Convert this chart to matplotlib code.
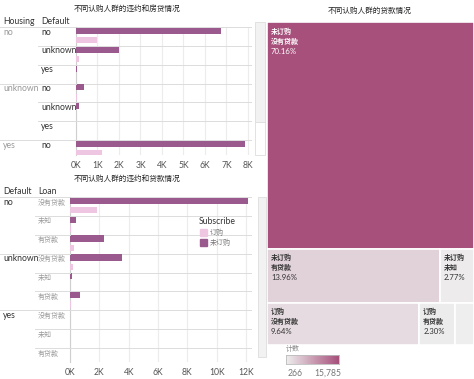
import matplotlib
matplotlib.use("Agg")
import matplotlib.pyplot as plt
import numpy as np
from matplotlib.colors import LinearSegmentedColormap
from matplotlib.patches import Rectangle

plt.rcParams['font.family'] = ['Lato', 'Noto Sans CJK SC', 'DejaVu Sans']

# ---------------- data ----------------
# chart 1: Housing / Default  (values in thousands)
housing = ["no", "no", "no", "unknown", "unknown", "unknown", "yes"]
default1 = ["no", "unknown", "yes", "no", "unknown", "yes", "no"]
not_sub1 = [6.73, 2.00, 0.03, 0.39, 0.12, 0.01, 7.88]
sub1 = [0.96, 0.12, 0.005, 0.05, 0.01, 0.02, 1.19]
ticks1 = [0, 1, 2, 3, 4, 5, 6, 7, 8]

# chart 2: Default / Loan (values in thousands)
default2 = ["no", "no", "no", "unknown", "unknown", "unknown", "yes", "yes", "yes"]
loan2 = ["没有贷款", "未知", "有贷款", "没有贷款", "未知", "有贷款", "没有贷款", "未知", "有贷款"]
not_sub2 = [12.16, 0.39, 2.30, 3.52, 0.11, 0.70, 0.003, 0.003, 0.02]
sub2 = [1.82, 0.07, 0.30, 0.20, 0.01, 0.04, 0.02, 0.02, 0.003]
ticks2 = [0, 2, 4, 6, 8, 10, 12]

# treemap: subscribe / loan counts
tm_sub = ["未订购", "未订购", "未订购", "订购", "订购", "订购"]
tm_loan = ["没有贷款", "有贷款", "未知", "没有贷款", "有贷款", "未知"]
tm_count = [15785, 3140, 623, 2169, 517, 266]
tm_row = [0, 1, 1, 2, 2, 2]

DARK = "#9b5a8d"
LIGHT = "#efc6e1"
GRID = "#ececec"
SEP = "#dcdcdc"
FS = 6.2

W, H = 474, 379
fig = plt.figure(figsize=(W / 100, H / 100), dpi=100)


def pax(x, y, w, h, **kw):
    return fig.add_axes([x / W, 1 - (y + h) / H, w / W, h / H], **kw)


def ftxt(x, y, s, **kw):
    fig.text(x / W, 1 - y / H, s, **kw)


def bar_panel(x0, xr, ytop, ybot, col2x, rows_vis, g1, g2, dark, light, ticks,
              xmax, g1_color, g2_color, headers, title, title_y, cjk2):
    ax = pax(x0, ytop, xr - x0, ybot - ytop)
    lax = pax(0, ytop, x0, ybot - ytop)
    n = len(g1)
    idx = np.arange(n)
    ax.barh(idx + 0.2, dark, height=0.33, color=DARK, zorder=3)
    ax.barh(idx + 0.7, light, height=0.33, color=LIGHT, zorder=3)
    ax.set_ylim(rows_vis, 0)
    ax.set_xlim(0, xmax)
    ax.set_xticks(ticks)
    ax.set_xticklabels([f"{t}K" for t in ticks], fontsize=FS, color="#555555")
    ax.tick_params(axis="x", length=0, pad=4)
    ax.set_yticks([])
    for t in ticks:
        ax.axvline(t, color=GRID, lw=0.8, zorder=1)
    for s in ["top", "right", "bottom"]:
        ax.spines[s].set_visible(False)
    ax.spines["left"].set_color("#cfcfcf")
    ax.spines["left"].set_linewidth(0.8)
    lax.set_xlim(0, x0)
    lax.set_ylim(rows_vis, 0)
    lax.axis("off")
    for i in range(1, n):
        ax.axhline(i, color=SEP, lw=0.7, zorder=2)
        start = 0 if g1[i] != g1[i - 1] else col2x - 3
        lax.plot([start, x0], [i, i], color=SEP, lw=0.7, clip_on=False)
    ax.axhline(0, color=SEP, lw=0.7, zorder=2)
    lax.plot([0, x0], [0, 0], color=SEP, lw=0.7)
    for i in range(n):
        if i == 0 or g1[i] != g1[i - 1]:
            lax.text(3, i + 0.27, g1[i], fontsize=FS, color=g1_color, va="center", ha="left")
        lax.text(col2x, i + 0.27, g2[i], fontsize=5.0 if cjk2 else FS,
                 color=g2_color, va="center", ha="left")
    ftxt(3, ytop - 5, headers[0], fontsize=FS, color="#333333", va="center")
    ftxt(col2x, ytop - 5, headers[1], fontsize=FS, color="#333333", va="center")
    ftxt(127, title_y, title, fontsize=5.5, color="#222222", ha="center", va="center")
    return ax


# ---------- top bar chart ----------
bar_panel(76, 252, 27, 155, 41, 6.79, housing, default1, not_sub1, sub1, ticks1,
          8.19, "#999999", "#333333", ("Housing", "Default"),
          "不同认购人群的违约和房贷情况", 8, False)

# ---------- bottom bar chart ----------
bar_panel(70, 252, 197, 362, 38, 8.74, default2, loan2, not_sub2, sub2, ticks2,
          12.4, "#333333", "#999999", ("Default", "Loan"),
          "不同认购人群的违约和贷款情况", 178, True)

# legend in bottom chart
ftxt(199, 221, "Subscribe", fontsize=FS, color="#333333", va="center")
fig.patches.append(Rectangle((200 / W, 1 - 236 / H), 7 / W, 7 / H, color=LIGHT,
                             transform=fig.transFigure, figure=fig))
fig.patches.append(Rectangle((200 / W, 1 - 246 / H), 7 / W, 7 / H, color=DARK,
                             transform=fig.transFigure, figure=fig))
ftxt(210, 232.5, "订购", fontsize=5.0, color="#777777", va="center")
ftxt(210, 242.5, "未订购", fontsize=5.0, color="#777777", va="center")

# scrollbars
for (sx, sy, sw, sh) in [(255, 22, 10, 100), (258, 197, 8, 160)]:
    fig.patches.append(Rectangle((sx / W, 1 - (sy + sh) / H), sw / W, sh / H,
                                 facecolor="#f2f2f2", edgecolor="#dddddd", lw=0.6,
                                 transform=fig.transFigure, figure=fig))
fig.patches.append(Rectangle((255 / W, 1 - 155 / H), 10 / W, 33 / H,
                             facecolor="white", edgecolor="#dddddd", lw=0.6,
                             transform=fig.transFigure, figure=fig))

# ---------- treemap ----------
TX, TY, TW, TH = 267, 22, 207, 323
cmap = LinearSegmentedColormap.from_list("pk", ["#eeeeee", "#a7507b"])
vmin, vmax = min(tm_count), max(tm_count)
tax = pax(TX, TY, TW, TH)
tax.set_xlim(0, 1)
tax.set_ylim(1, 0)
tax.axis("off")
total = sum(tm_count)
counts = np.array(tm_count, dtype=float)
rows = np.array(tm_row)
dx, dy = 4 / TW, 1 / TH
y = 0.0
for r in sorted(set(tm_row)):
    sel = np.where(rows == r)[0]
    rh = counts[sel].sum() / total
    x = 0.0
    for k in sel:
        w = counts[k] / counts[sel].sum()
        c = cmap((counts[k] - vmin) / (vmax - vmin))
        tax.add_patch(Rectangle((x, y), w, rh, facecolor=c, edgecolor="white", lw=1.2))
        if counts[k] / total > 0.015:
            tc = "white" if counts[k] > 8000 else "#333333"
            tax.text(x + dx, y + 9 * dy, tm_sub[k], fontsize=5.0, color=tc,
                     fontweight="bold", va="center", ha="left")
            tax.text(x + dx, y + 19 * dy, tm_loan[k], fontsize=5.0, color=tc,
                     fontweight="bold", va="center", ha="left")
            tax.text(x + dx, y + 29 * dy, f"{counts[k] / total * 100:.2f}%",
                     fontsize=5.6, color=tc, va="center", ha="left")
        x += w
    y += rh

ftxt(370, 10, "不同认购人群的贷款情况", fontsize=5.5, color="#222222", ha="center", va="center")

# color legend
ftxt(286, 348, "计数", fontsize=5.0, color="#888888", va="center")
cax = pax(286, 355, 53, 9)
cax.imshow(np.linspace(0, 1, 100)[None, :], cmap=cmap, aspect="auto")
cax.set_xticks([])
cax.set_yticks([])
for s in cax.spines.values():
    s.set_color("#bbbbbb")
    s.set_linewidth(0.6)
ftxt(288, 373, f"{vmin}", fontsize=6.2, color="#777777", va="center")
ftxt(341, 373, f"{vmax:,}", fontsize=6.2, color="#777777", va="center", ha="right")

fig.savefig("out.png", dpi=100)
